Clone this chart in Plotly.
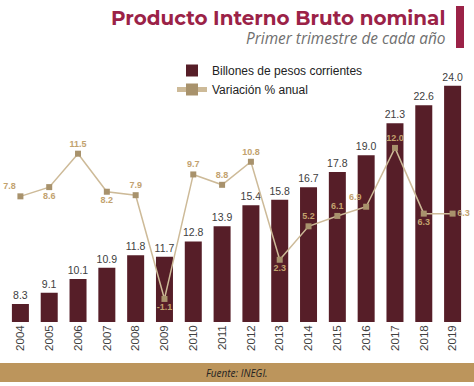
import plotly.graph_objects as go

years = [str(y) for y in range(2004, 2020)]
pib = [8.3, 9.1, 10.1, 10.9, 11.8, 11.7, 12.8, 13.9, 15.4, 15.8, 16.7, 17.8, 19.0, 21.3, 22.6, 24.0]
variacion = [7.8, 8.6, 11.5, 8.2, 7.9, -1.1, 9.7, 8.8, 10.8, 2.3, 5.2, 6.1, 6.9, 12.0, 6.3, 6.3]
var_pos = ["top left", "bottom center", "top center", "bottom center", "top center", "bottom center",
           "top center", "top center", "top center", "bottom center", "top center", "top center",
           "top left", "top center", "bottom center", "middle right"]

W, H = 474, 386
L, R, T, B = 6, 7, 58, 64
pw, ph = W - L - R, H - T - B

def px(x):
    return (x - L) / pw

def py(y):
    return (H - B - y) / ph

fig = go.Figure()
fig.add_trace(go.Bar(
    x=years, y=pib, name="Billones de pesos corrientes",
    marker=dict(color="#561E28", line=dict(width=0)),
    text=[f"{v:.1f}" for v in pib], textposition="outside", constraintext="none",
    textfont=dict(family="Liberation Sans, Arial", size=10.5, color="#404040"),
    cliponaxis=False,
))
fig.add_trace(go.Scatter(
    x=years, y=variacion, name="Variación % anual", yaxis="y2",
    mode="lines+markers+text",
    line=dict(color="#CDBA98", width=1.5),
    marker=dict(symbol="square", size=6, color="#A8926C"),
    text=[f"<b>{v:.1f}</b>" for v in variacion], textposition=var_pos,
    textfont=dict(family="Liberation Sans, Arial", size=9, color="#C2A26E"),
    cliponaxis=False,
))

fig.update_layout(
    width=W, height=H, margin=dict(l=L, r=R, t=T, b=B, autoexpand=False),
    paper_bgcolor="white", plot_bgcolor="white",
    bargap=0.41,
    showlegend=True,
    legend=dict(x=px(172), y=py(56), xanchor="left", yanchor="top",
                font=dict(family="Liberation Sans, Arial", size=12, color="#222"),
                bgcolor="rgba(0,0,0,0)", tracegroupgap=0, itemsizing="constant"),
    xaxis=dict(tickangle=-90, showgrid=False, showline=False, ticks="", automargin=False,
               range=[-0.5, 15.5],
               tickfont=dict(family="Liberation Sans, Arial", size=11.5, color="#404040")),
    yaxis=dict(range=[7, 26], visible=False, showgrid=False, automargin=False),
    yaxis2=dict(range=[-3.1, 19.8], overlaying="y", visible=False, showgrid=False, automargin=False),
    shapes=[
        dict(type="rect", xref="paper", yref="paper", x0=px(456), x1=px(464), y0=py(48), y1=py(6),
             fillcolor="#9B2247", line=dict(width=0), layer="above"),
        dict(type="rect", xref="paper", yref="paper", x0=px(0), x1=px(474), y0=py(382), y1=py(363),
             fillcolor="#BC955C", line=dict(width=0), layer="above"),
    ],
    annotations=[
        dict(text="<b>Producto Interno Bruto nominal</b>", xref="paper", yref="paper",
             x=px(447), y=py(18), xanchor="right", yanchor="middle", showarrow=False,
             font=dict(family="Montserrat, Lato, Open Sans", size=19.9, color="#9B2247")),
        dict(text="<i>Primer trimestre de cada año</i>", xref="paper", yref="paper",
             x=px(447), y=py(38), xanchor="right", yanchor="middle", showarrow=False,
             font=dict(family="Open Sans", size=15.4, color="#6F6F6F")),
        dict(text="<i>Fuente: INEGI.</i>", xref="paper", yref="paper",
             x=px(237), y=py(373), xanchor="center", yanchor="middle", showarrow=False,
             font=dict(family="Open Sans", size=10, color="#222")),
    ],
)

fig.write_html("out.html", config={"displayModeBar": False},
               post_script="document.body.style.margin='0px';document.body.style.overflow='hidden';")
